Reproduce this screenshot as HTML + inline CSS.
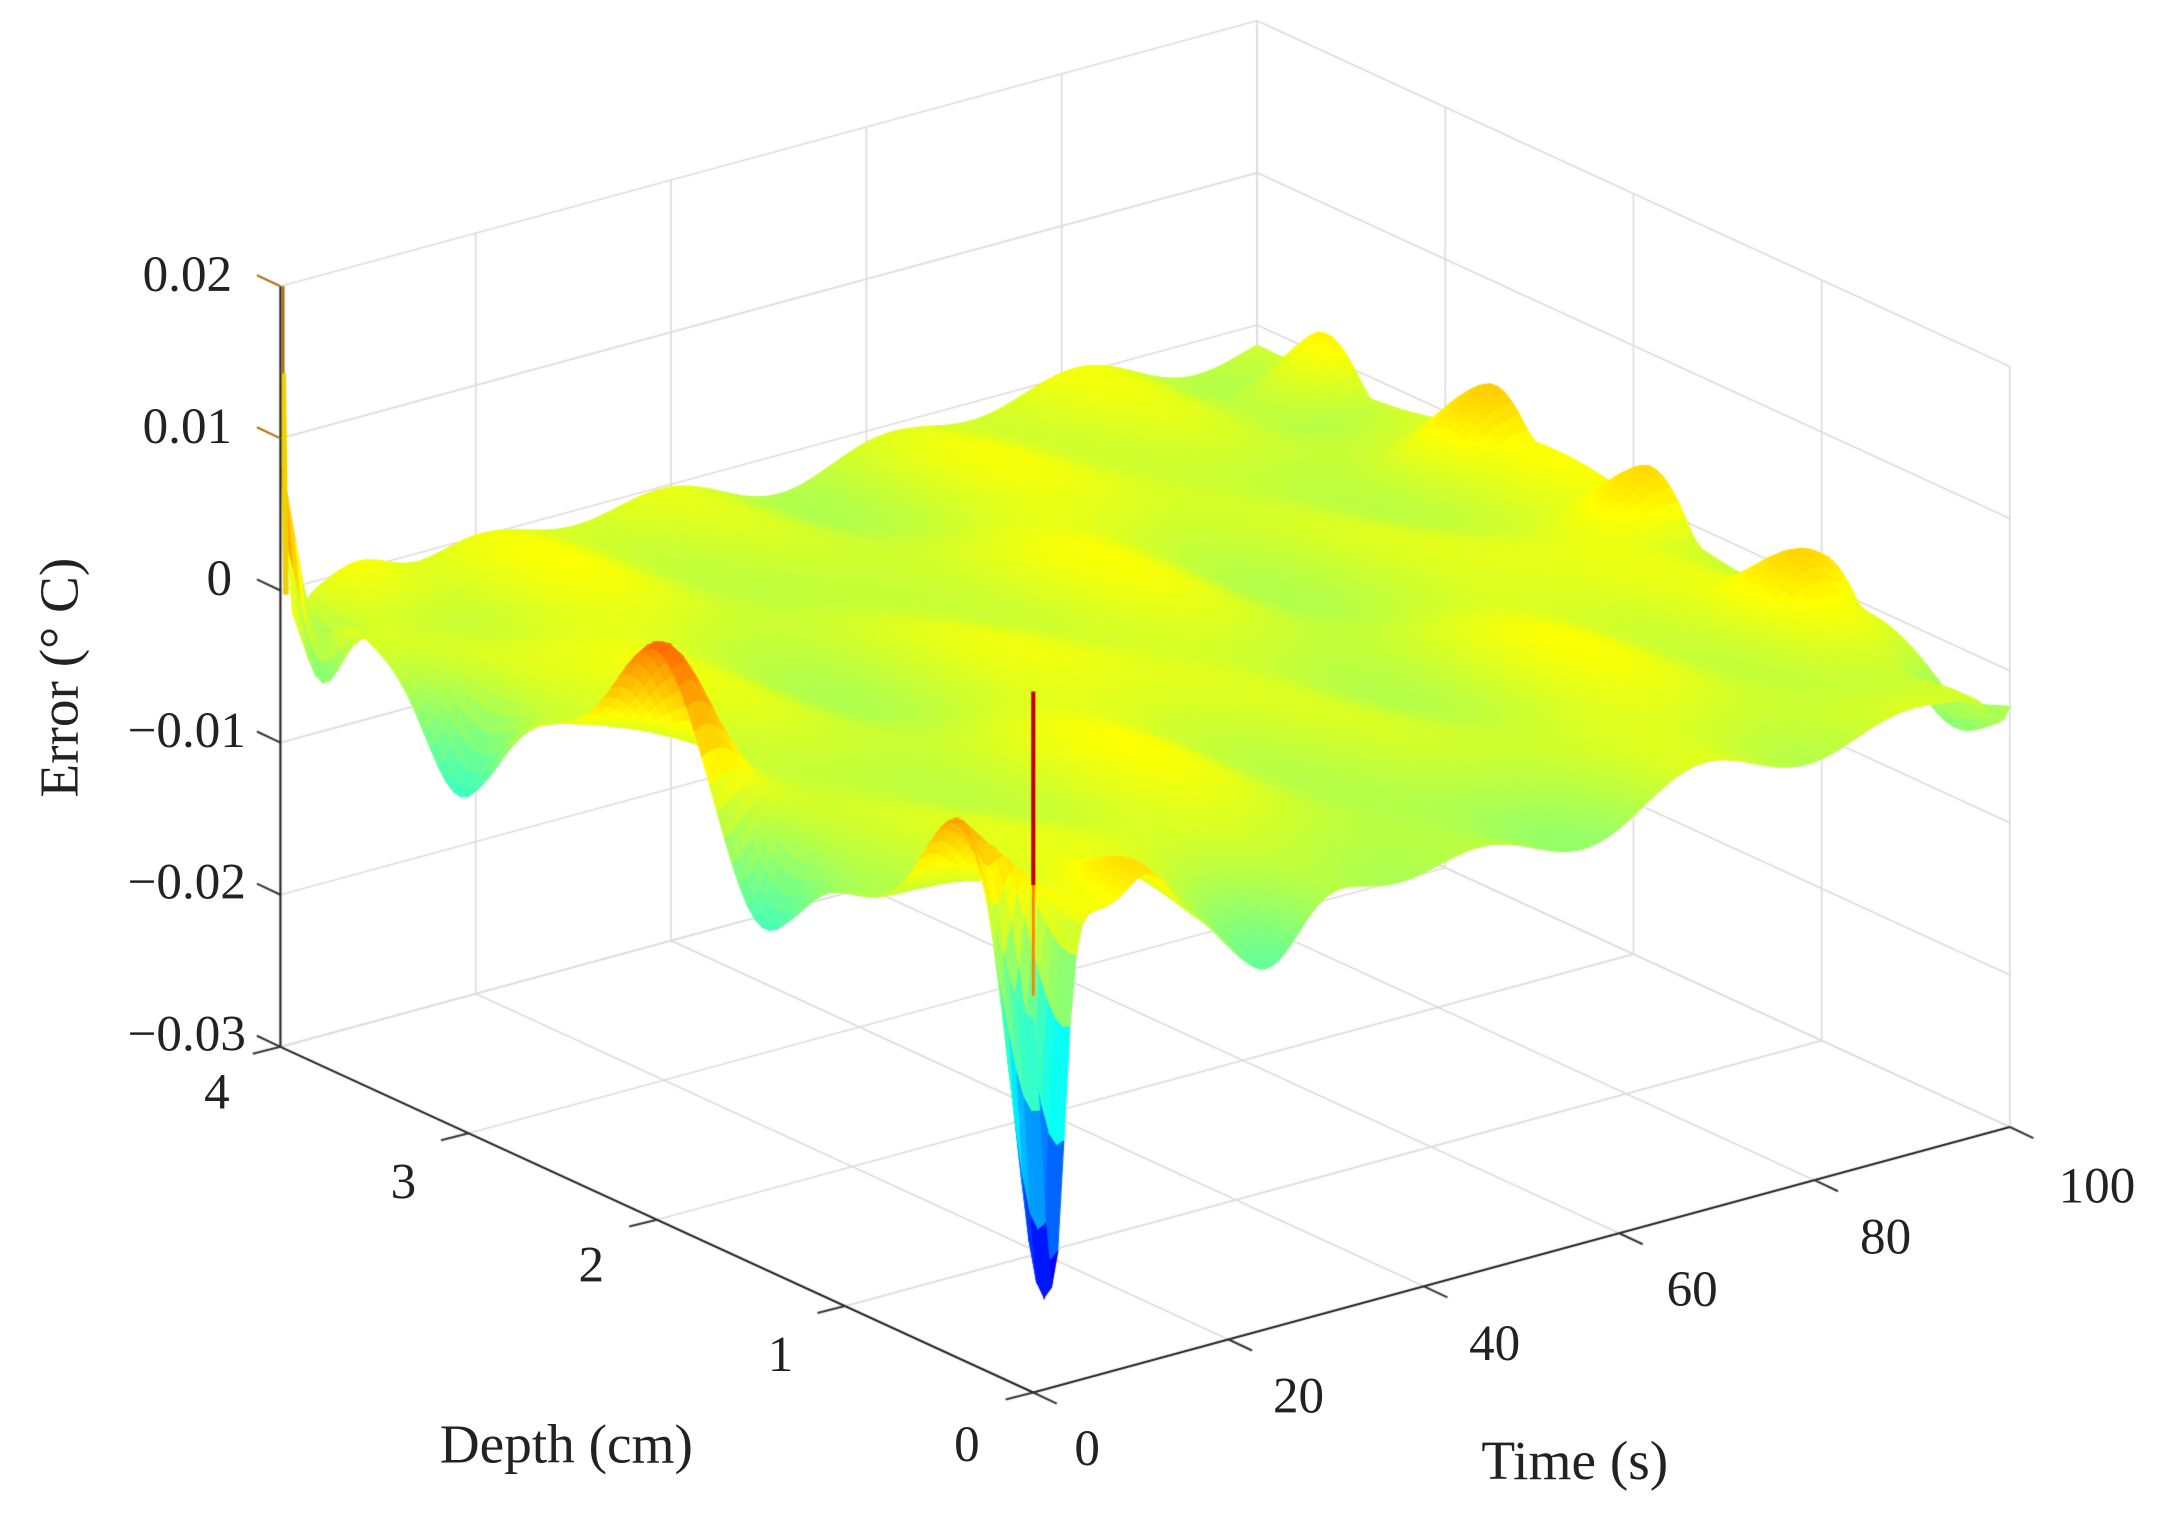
<!DOCTYPE html>
<html><head><meta charset="utf-8">
<style>
html,body{margin:0;padding:0;background:#fff;}
#wrap{position:relative;width:2166px;height:1517px;overflow:hidden;}
canvas,svg{position:absolute;left:0;top:0;}
svg text{font-family:"Liberation Serif",serif;fill:#222;}
</style></head><body>
<div id="wrap">
<canvas id="c" width="2166" height="1517"></canvas>
<svg width="2166" height="1517" viewBox="0 0 1568 1097">
<g font-size="37" text-anchor="end">
<text x="168" y="210">0.02</text>
<text x="168" y="320">0.01</text>
<text x="168" y="430">0</text>
<text x="178" y="540">−0.01</text>
<text x="178" y="650">−0.02</text>
<text x="178" y="760">−0.03</text>
</g>
<g font-size="37" text-anchor="middle">
<text x="157" y="802">4</text>
<text x="292" y="867">3</text>
<text x="428" y="927">2</text>
<text x="565" y="992">1</text>
<text x="700" y="1057">0</text>
<text x="787" y="1060">0</text>
<text x="940" y="1022">20</text>
<text x="1082" y="984">40</text>
<text x="1225" y="945">60</text>
<text x="1365" y="907">80</text>
<text x="1518" y="870">100</text>
</g>
<text x="410" y="1058" font-size="40" text-anchor="middle">Depth (cm)</text>
<text x="1140" y="1070" font-size="40" text-anchor="middle">Time (s)</text>
<text transform="translate(56,490) rotate(-90)" font-size="40" text-anchor="middle">Error (° C)</text>
</svg>
</div>
<script>
const cv=document.getElementById('c');const ctx=cv.getContext('2d');
ctx.scale(2166/1568,1517/1097);
const O=[748,1007],T=[707,-192],D=[-545,-250];
function P(t,d,z){return [O[0]+t/100*T[0]+d/4*D[0], O[1]+t/100*T[1]+d/4*D[1]-(z+0.03)/0.01*110];}
function line(a,b,col,w){ctx.strokeStyle=col;ctx.lineWidth=w;ctx.beginPath();ctx.moveTo(a[0],a[1]);ctx.lineTo(b[0],b[1]);ctx.stroke();}
const G='#dcdcdc';
for(let k=0;k<=5;k++){const t=k*20;line(P(t,4,-0.03),P(t,4,0.02),G,1.2);line(P(t,4,-0.03),P(t,0,-0.03),G,1.2);}
for(let k=0;k<=4;k++){line(P(100,k,-0.03),P(100,k,0.02),G,1.2);line(P(0,k,-0.03),P(100,k,-0.03),G,1.2);}
for(let k=0;k<=5;k++){const z=-0.03+k*0.01;line(P(0,4,z),P(100,4,z),G,1.2);line(P(100,4,z),P(100,0,z),G,1.2);}
function jet(v){v=Math.max(0,Math.min(1,v));const r=Math.min(1,Math.max(0,1.5-Math.abs(4*v-3))),g=Math.min(1,Math.max(0,1.5-Math.abs(4*v-2))),b=Math.min(1,Math.max(0,1.5-Math.abs(4*v-1)));return 'rgb('+(r*255|0)+','+(g*255|0)+','+(b*255|0)+')';}
function bump(t,d,t0,d0,st,sd,a){return a*Math.exp(-((t-t0)*(t-t0)/(st*st)+(d-d0)*(d-d0)/(sd*sd)));}
function Z(t,d){
 let z=-0.0010+0.0010*Math.sin(t*0.30+d*1.3)*Math.cos(d*2.4+0.5)+0.0008*Math.sin(t*0.13-d*2.1);
 // ripples along t=100 edge
 z+=0.003*Math.exp(-(100-t)*(100-t)/40)*Math.max(0,Math.sin(d*7.2+0.6))*(d>0.5?1:0.3);
 z+=bump(t,d,8,4,5,0.3,0.003);
 // left edge (t=0) features
 z+=bump(t,d,1,2.0,4,0.28,0.008);
 z+=bump(t,d,1,0.4,4,0.25,0.0075);
 z+=bump(t,d,0,3.85,2,0.15,-0.008);
 z+=bump(t,d,0,3.05,3,0.25,-0.007);
 z+=bump(t,d,0,1.45,3,0.25,-0.006);
 // front edge
 z+=bump(t,d,24,0,5,0.35,-0.006);
 z+=bump(t,d,12,0.1,3,0.3,0.003);
 z+=bump(t,d,55,0,12,0.5,-0.003);
 z+=bump(t,d,99,0.2,1.5,0.25,-0.004);
 z+=bump(t,d,96,0.8,5,0.3,0.002);
 // deep dip
 z+=bump(t,d,2,0.05,1.6,0.22,-0.025);
 z+=bump(t,d,0,4,0.8,0.25,0.012);
 return z;}
const nt=160,nd=100;const pts=[];
for(let i=0;i<=nt;i++){pts[i]=[];for(let j=0;j<=nd;j++){const t=i*100/nt,d=j*4/nd;const z=Z(t,d);pts[i][j]=[P(t,d,z),z];}}
const q=[];for(let i=0;i<nt;i++)for(let j=0;j<nd;j++)q.push([i,j,i/nt+j/nd]);
q.sort((a,b)=>b[2]-a[2]);
for(const [i,j] of q){const a=pts[i][j],b=pts[i+1][j],c=pts[i+1][j+1],e=pts[i][j+1];
 const z=(a[1]+b[1]+c[1]+e[1])/4;const col=jet((z+0.0285)/0.047);
 ctx.fillStyle=col;ctx.strokeStyle=col;ctx.lineWidth=0.8;ctx.beginPath();
 ctx.moveTo(a[0][0],a[0][1]);ctx.lineTo(b[0][0],b[0][1]);ctx.lineTo(c[0][0],c[0][1]);ctx.lineTo(e[0][0],e[0][1]);ctx.closePath();ctx.fill();ctx.stroke();}
line([748,500],[748,640],'#c00000',3);
line([748,640],[748,720],'#ff8000',2);
line([205,207],[205,360],'#b07010',2);
line([205,270],[207,430],'#f0d000',4);
line(P(0,4,-0.03),P(0,4,0.02),'#222',1.5);
line(P(0,4,-0.03),P(0,0,-0.03),'#222',1.5);
line(P(0,0,-0.03),P(100,0,-0.03),'#222',1.5);
for(let k=0;k<=5;k++){const z=-0.03+k*0.01;const p=P(0,4,z);line(p,[p[0]-17,p[1]-8],k>=4?'#b07010':'#333',1.5);}
for(let k=0;k<=4;k++){const p=P(0,k,-0.03);line(p,[p[0]-20,p[1]+5],'#333',1.5);}
for(let k=0;k<=5;k++){const p=P(k*20,0,-0.03);line(p,[p[0]+17,p[1]+8],'#333',1.5);}
</script>
</body></html>
